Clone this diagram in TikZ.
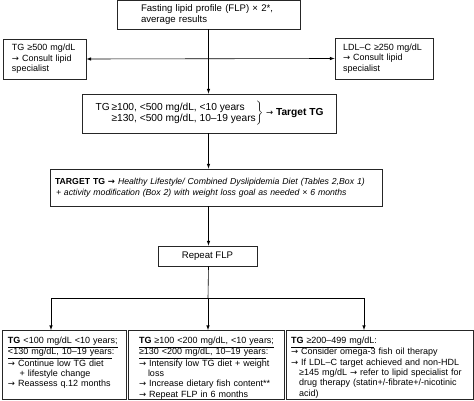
\documentclass[tikz,border=0pt]{standalone}
\usepackage{fontspec}
\setmainfont{Liberation Sans}
\newfontfamily\arrowfont{DejaVu Sans}
\newcommand{\rarr}{{\arrowfont\fontsize{8.5}{11}\selectfont →}}
\usetikzlibrary{positioning,shapes,arrows}

\begin{document}
\begin{tikzpicture}[
    x=1pt, y=-1pt,
    font=\fontsize{9}{11}\selectfont,
    box/.style={draw=black!85, rectangle, line width=0.9pt, inner sep=0pt, align=left},
    bigbox/.style={box, font=\fontsize{9.6}{11}\selectfont},
    lowbox/.style={box, anchor=north, font=\fontsize{9}{10.3}\selectfont, text height=13pt, text depth=56pt},
    arrow/.style={-latex, line width=0.6pt},
    dblarrow/.style={latex-latex, line width=0.6pt},
    link/.style={line width=0.6pt}
]
\useasboundingbox (0,0) rectangle (474,401);

% Boxes
\node[bigbox, minimum width=183pt, minimum height=29pt, text width=135pt] (flp) at (208.5,14.5)
    {Fasting lipid profile (FLP) × 2*,\\average results};
\node[box, font=\fontsize{9}{10.5}\selectfont, minimum width=83pt, minimum height=40pt, text width=65pt] (tghigh) at (44.5,59)
    {TG ≥500 mg/dL\\\rarr{} Consult lipid\\specialist};
\node[box, font=\fontsize{9}{10.5}\selectfont, minimum width=98pt, minimum height=41pt, text width=82pt] (ldl) at (384,58.5)
    {LDL–C ≥250 mg/dL\\\rarr{} Consult lipid\\specialist};
\node[box, font=\fontsize{10.2}{11.5}\selectfont, minimum width=254pt, minimum height=39pt, align=center] (target) at (209,113.5)
    {$\left.\begin{tabular}{@{}r@{\,}l@{}}TG & ≥100, <500 mg/dL, <10 years\\ & ≥130, <500 mg/dL, 10–19 years\end{tabular}\right\}$
     \rarr{} \textbf{Target TG}};
\node[box, font=\fontsize{8.7}{11}\selectfont, minimum width=332pt, minimum height=37pt, text width=322pt] (diet) at (216,187.5)
    {\textbf{TARGET TG \rarr} \textit{Healthy Lifestyle/ Combined Dyslipidemia Diet (Tables 2,Box 1)}\\
     \hspace*{1pt}\textit{+ activity modification (Box 2) with weight loss goal as needed × 6 months}};
\node[bigbox, minimum width=99pt, minimum height=20pt, align=center] (repeat) at (207.5,256)
    {Repeat FLP};

% Outcomes
\node[lowbox, minimum width=124pt, text width=112pt] (low) at (64,330)
    {\underline{\textbf{TG} <100 mg/dL <10 years;}\\
     \underline{<130 mg/dL, 10–19 years}:\\
     \rarr{} Continue low TG diet\\
     \hspace*{1.3em}+ lifestyle change\\
     \rarr{} Reassess q.12 months};
\node[lowbox, minimum width=156pt, text width=134pt] (mid) at (206,330)
    {\underline{\textbf{TG} ≥100 <200 mg/dL, <10 years;}\\
     \underline{≥130 <200 mg/dL, 10–19 years}:\\
     \rarr{} Intensify low TG diet + weight\\
     \hspace*{1em}loss\\
     \rarr{} Increase dietary fish content**\\
     \rarr{} Repeat FLP in 6 months};
\node[lowbox, minimum width=187pt, text width=177pt] (high) at (379.5,330)
    {\underline{\textbf{TG} ≥200–499 mg/dL}:\\
     \rarr{} Consider omega-3 fish oil therapy\\
     \rarr{} If LDL–C target achieved and non-HDL\\
     \hspace*{0.9em}≥145 mg/dL \rarr{} refer to lipid specialist for\\
     \hspace*{0.9em}drug therapy (statin+/-fibrate+/-nicotinic\\
     \hspace*{0.9em}acid)};

% Junctions
\coordinate (split) at (208,298);
\coordinate (splitl) at (51,298);
\coordinate (splitr) at (364,298);

% Connections
\draw[dblarrow] (tghigh.east) -- (ldl.west);
\draw[arrow] (flp.south) -- (flp.south |- target.north);
\draw[arrow] (flp.south |- target.south) -- (flp.south |- diet.north);
\draw[arrow] (flp.south |- diet.south) -- (flp.south |- repeat.north);
\draw[link] (flp.south |- repeat.south) -- (split);
\draw[link] (splitl) -- (splitr);
\draw[arrow] (splitl) -- (splitl |- low.north);
\draw[arrow] (split) -- (split |- mid.north);
\draw[arrow] (splitr) -- (splitr |- high.north);

\end{tikzpicture}
\end{document}
